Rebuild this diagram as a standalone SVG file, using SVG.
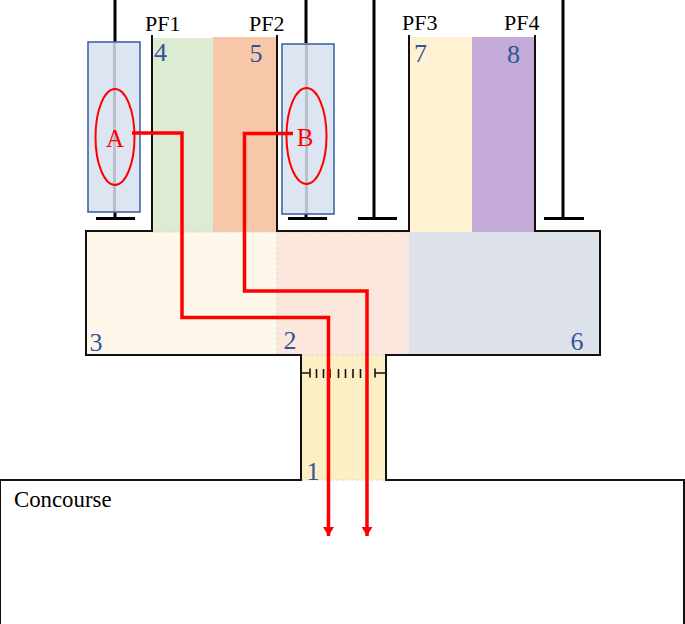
<svg xmlns="http://www.w3.org/2000/svg" width="685" height="624" viewBox="0 0 685 624">
<style>
.w{fill:none;stroke:#111;stroke-width:2}
.t{fill:none;stroke:#000;stroke-width:3}
.g{fill:none;stroke:#111;stroke-width:1.600}
.r{fill:none;stroke:#f00;stroke-width:3.500}
.box{fill:#dde5f3;stroke:#3f66a6;stroke-width:1.600}
.ax{stroke:#b9c0cc;stroke-width:3}
.ell{fill:none;stroke:#f00;stroke-width:2}
text{font-family:"Liberation Serif","Times New Roman",serif}
.n{font-size:26px;fill:#2f5597}
.p{font-size:22px;fill:#000}
.l{font-size:25px;fill:#f00}
.d{fill:none;stroke:#ccd0dc;stroke-width:.8;stroke-dasharray:3 2}
</style>
<defs>
<marker id="ah" markerUnits="userSpaceOnUse" markerWidth="11" markerHeight="11" refX="9" refY="5.500" orient="auto" viewBox="0 0 11 11"><path d="M0 0L9 5.500L0 11Z" fill="#f00"/></marker>
</defs>
<g id="areas">
<rect id="area-4" x="152" y="38" width="61" height="194" fill="#dcebd2"/>
<rect id="area-5" x="213" y="37" width="63" height="195" fill="#f6c8a9"/>
<rect id="area-7" x="409" y="37" width="63" height="195" fill="#fff2d2"/>
<rect id="area-8" x="472" y="37" width="63" height="195" fill="#c4abd8"/>
<rect id="area-3" x="86" y="232" width="191" height="123" fill="#fff8ea"/>
<rect id="area-2" x="277" y="232" width="132" height="123" fill="#fbe7dc"/>
<rect id="area-6" x="409" y="232" width="191" height="123" fill="#dde2ea"/>
<rect id="area-1" x="301" y="355" width="84" height="125" fill="#fdefc4"/>
<path class="d" d="M152 232H409M277 232V355M301 355H385M301 480H385"/>
</g>
<g id="walls">
<path class="w" d="M152 35V231H86V355H301V480H0M685 480H386V355H600V231H535V35M277 35V231H409V35"/>
<path class="w" d="M0 480V624M684 480V624"/>
</g>
<g id="platform-screens">
<path class="t" d="M115 0V42M306 0V43M374 0V218M563 0V218M96 218.500H135M288 218.500H327M358 218.500H397M544 218.500H584M115 212V218M306 214V218"/>
</g>
<g id="train-A">
<rect class="box" x="88" y="42" width="52" height="170"/>
<path class="ax" d="M114.500 43V211"/>
<ellipse class="ell" cx="115" cy="137" rx="19.500" ry="48"/>
<text class="l" x="115" y="147" text-anchor="middle">A</text>
</g>
<g id="train-B">
<rect class="box" x="282" y="44" width="52" height="170"/>
<path class="ax" d="M306.500 45V213"/>
<ellipse class="ell" cx="306.500" cy="136" rx="20" ry="48"/>
<text class="l" x="305" y="146" text-anchor="middle">B</text>
</g>
<g id="gate">
<path class="g" d="M301 373H309M310 368.500V377.500M316.500 369V378M323.500 369V378M330 369V378M338.500 369V378M345.500 369V378M353 369V378M360.500 369V378M375 373H385M375 368.500V377.500"/>
</g>
<g id="labels">
<text class="p" x="145" y="31">PF1</text>
<text class="p" x="249" y="31">PF2</text>
<text class="p" x="402" y="30">PF3</text>
<text class="p" x="504" y="30">PF4</text>
<text class="n" x="160.500" y="61" text-anchor="middle">4</text>
<text class="n" x="256" y="62" text-anchor="middle">5</text>
<text class="n" x="420.500" y="62" text-anchor="middle">7</text>
<text class="n" x="513.500" y="63" text-anchor="middle">8</text>
<text class="n" x="96" y="351" text-anchor="middle">3</text>
<text class="n" x="290" y="349" text-anchor="middle">2</text>
<text class="n" x="577" y="350" text-anchor="middle">6</text>
<text class="n" x="313" y="480" text-anchor="middle">1</text>
<text x="14" y="507" font-size="22.800" fill="#000">Concourse</text>
</g>
<g id="connectors">
<path class="r" marker-end="url(#ah)" d="M132 133H182V317.500H328.500V536"/>
<path class="r" marker-end="url(#ah)" d="M293 133.500H244.500V291H367V536"/>
</g>
</svg>
